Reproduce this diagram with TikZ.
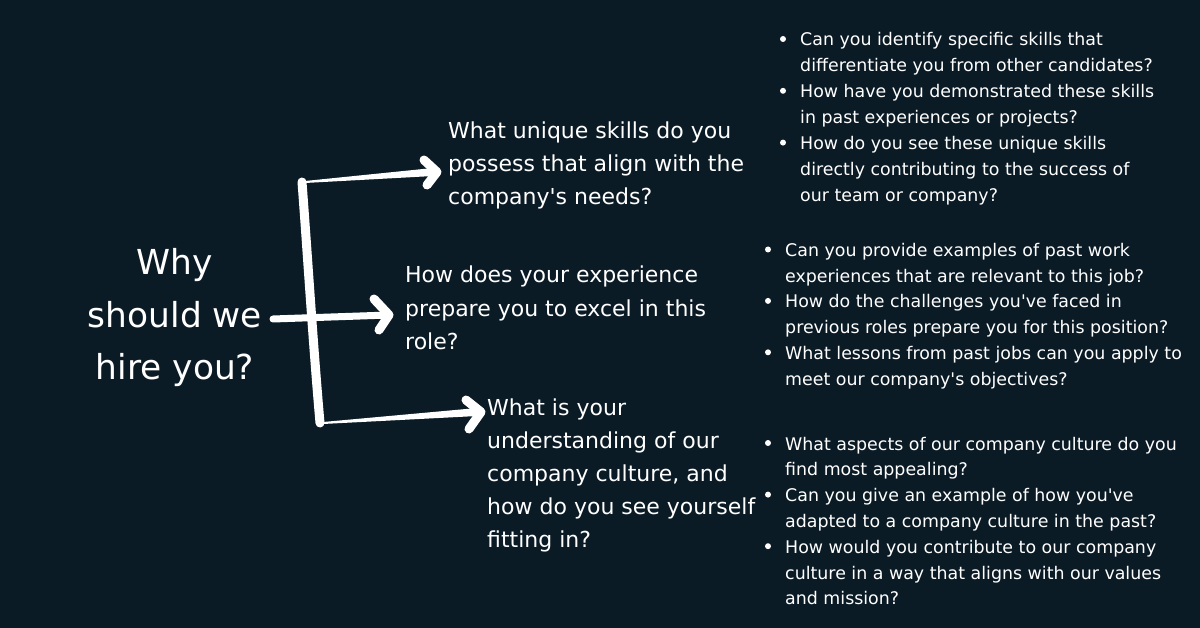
\documentclass[tikz,border=0pt]{standalone}
\usepackage{fontspec}
\setmainfont{DejaVu Sans}
\usetikzlibrary{calc}
\definecolor{bg}{RGB}{11,27,38}
\begin{document}
\begin{tikzpicture}[x=1pt,y=-1pt,
  ln/.style={anchor=base west,inner sep=0pt,text=white},
  bul/.style={ln,font=\fontsize{17.4}{20}\selectfont},
  mid/.style={ln,font=\fontsize{22}{26}\selectfont},
  ttl/.style={anchor=base,inner sep=0pt,text=white,font=\fontsize{34.4}{40}\selectfont},
  dot/.style={circle,fill=white,inner sep=0pt,minimum size=6pt},
  stroke/.style={draw=white,line cap=round,line join=round},
  chev/.style={stroke,line width=9pt}]
\fill[bg] (0,0) rectangle (1200,628);
\useasboundingbox (0,0) rectangle (1200,628);

% title
\foreach \t [count=\i] in {Why,should we,hire you?}
  \node[ttl] (title-\i) at (175,{275+52.5*(\i-1)}) {\t};

% middle questions
\foreach \t [count=\i] in {What unique skills do you,possess that align with the,company\textquotesingle s needs?}
  \node[mid] (qa-\i) at (448,{139+33*(\i-1)}) {\t};
\foreach \t [count=\i] in {How does your experience,prepare you to excel in this,role?}
  \node[mid] (qb-\i) at (405,{283+33.5*(\i-1)}) {\t};
\foreach \t [count=\i] in {What is your,understanding of our,{company culture, and},how do you see yourself,fitting in?}
  \node[mid] (qc-\i) at (487,{415+33*(\i-1)}) {\t};

% bullets A
\foreach \t [count=\i] in {Can you identify specific skills that,differentiate you from other candidates?,How have you demonstrated these skills,in past experiences or projects?,How do you see these unique skills,directly contributing to the success of,our team or company?}
  \node[bul] (ba-\i) at (800,{46+25.9*(\i-1)}) {\t};
\foreach \i in {1,3,5}
  \node[dot] (da-\i) at ($(ba-\i.base west)+(-17,-7)$) {};

% bullets B
\foreach \t [count=\i] in {Can you provide examples of past work,experiences that are relevant to this job?,How do the challenges you\textquotesingle ve faced in,previous roles prepare you for this position?,What lessons from past jobs can you apply to,meet our company\textquotesingle s objectives?}
  \node[bul] (bb-\i) at (785,{256.5+25.7*(\i-1)}) {\t};
\foreach \i in {1,3,5}
  \node[dot] (db-\i) at ($(bb-\i.base west)+(-17,-7)$) {};

% bullets C
\foreach \t [count=\i] in {What aspects of our company culture do you,find most appealing?,Can you give an example of how you\textquotesingle ve,adapted to a company culture in the past?,How would you contribute to our company,culture in a way that aligns with our values,and mission?}
  \node[bul] (bc-\i) at (785,{450+25.8*(\i-1)}) {\t};
\foreach \i in {1,3,5}
  \node[dot] (dc-\i) at ($(bc-\i.base west)+(-17,-7)$) {};

% connectors
\coordinate (vtop) at (302,182);
\coordinate (vbot) at (320,423);
\coordinate (hstart) at (273,319);
\coordinate (tipA) at (437,172);
\coordinate (tipB) at (389,315);
\coordinate (tipC) at (481,412);

\draw[stroke,line width=9pt] (vtop) .. controls (308,262) and (313,343) .. (vbot);
\draw[stroke,line width=7pt] (hstart) -- (tipB);
\fill[white] ($(vtop)+(3,-1)$) -- ($(tipA)+(-4,-4)$) -- ($(tipA)+(-4,4)$) -- ($(vtop)+(3,1)$) -- cycle;
\fill[white] ($(vbot)+(3,-1)$) -- ($(tipC)+(-4,-4)$) -- ($(tipC)+(-4,4)$) -- ($(vbot)+(3,1)$) -- cycle;
\draw[chev] ($(tipA)+(-13,-12)$) -- (tipA) -- ($(tipA)+(-10,13)$);
\draw[chev] ($(tipB)+(-15,-16)$) -- (tipB) -- ($(tipB)+(-10,15)$);
\draw[chev] ($(tipC)+(-15,-12)$) -- (tipC) -- ($(tipC)+(-12,17)$);
\end{tikzpicture}
\end{document}
